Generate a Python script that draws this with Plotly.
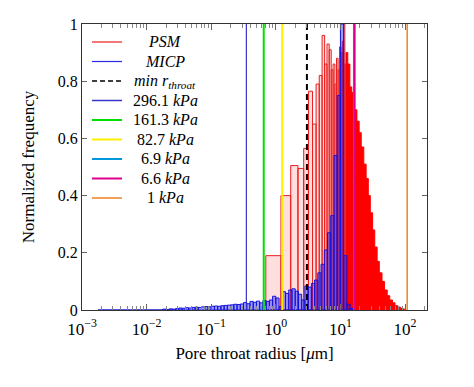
import numpy as np
import plotly.graph_objects as go

# ---------------- data ----------------
# PSM histogram (normalized frequency), linear bins of 0.5 um
psm_edges = [0.7, 1.2, 1.7, 2.2, 2.7, 3.2, 3.7, 4.2, 4.7, 5.2, 5.7, 6.2, 6.7,
             7.2, 7.7, 8.2, 8.7, 9.2, 9.7, 10.2, 10.7, 11.2, 11.7, 12.2]
psm_values = [0.19, 0.40, 0.505, 0.495, 0.565, 0.765, 0.65, 0.79, 0.82, 0.96,
              0.86, 0.93, 0.91, 0.84, 0.86, 0.79, 0.88, 0.84, 0.92, 0.90,
              0.94, 1.00, 0.86]
# dense tail of the PSM histogram (bars too narrow to separate -> solid red)
psm_tail_edges = [12.2, 13, 14, 15, 16.5, 18, 19.5, 21, 23, 25, 27, 29, 31.5,
                  34, 37, 40, 44, 48, 53, 58, 64, 70, 77, 85, 93, 102]
psm_tail_values = [0.90, 0.86, 0.78, 0.76, 0.70, 0.66, 0.62, 0.57, 0.51, 0.46,
                   0.40, 0.34, 0.28, 0.22, 0.17, 0.13, 0.10, 0.07, 0.05, 0.035,
                   0.025, 0.015, 0.01, 0.006, 0.003]

# MICP histogram, log bins of 0.05 decade starting at 10^-2.75 um
micp_log_start = -2.75
micp_log_step = 0.05
micp_values = [0.0] * 20 + [
    0.003, 0.002, 0.004, 0.003, 0.005,
    0.007, 0.006, 0.008, 0.007, 0.009,
    0.010, 0.009, 0.011, 0.012, 0.011,
    0.013, 0.014, 0.013, 0.015, 0.016,
    0.017, 0.018, 0.020, 0.019, 0.021,
    0.026, 0.022, 0.030, 0.027, 0.031,
    0.025, 0.033, 0.030, 0.035, 0.048,
    0.042, 0.012, 0.064, 0.058, 0.070,
    0.074, 0.066, 0.055, 0.035, 0.084,
    0.080, 0.093, 0.105, 0.130, 0.160,
    0.210, 0.270, 0.330, 0.540, 0.750,
    1.000, 0.190, 0.020, 0.005]

min_r_throat = 3.03

pressure_labels = ["296.1", "161.3", "82.7", "6.9", "6.6", "1"]
pressure_radius = [0.35, 0.65, 1.26, 16.2, 16.6, 108]
pressure_colors = ["#3535c8", "#00e000", "#ffee00", "#0098d8", "#e0008a", "#f08a30"]
pressure_widths = [1.2, 2, 2, 2, 2, 1.6]

x_tickvals = [1e-3, 1e-2, 1e-1, 1e0, 1e1, 1e2]
x_ticktext = ["10<sup>\u22123</sup>", "10<sup>\u22122</sup>", "10<sup>\u22121</sup>",
              "10<sup>0</sup>", "10<sup>1</sup>", "10<sup>2</sup>"]

# legend entries (label, colour, width, dash)
legend_items = [("<i>PSM</i>", "rgb(235,30,30)", 1.2, "solid"),
                ("<i>MICP</i>", "rgb(40,40,230)", 1.2, "solid"),
                ("<i>min r</i><sub><i>throat</i></sub>", "black", 1.5, "dash")]
legend_items += [(lab + " <i>kPa</i>", c, w if w > 1.5 else 1.5, "solid")
                 for lab, c, w in zip(pressure_labels, pressure_colors, pressure_widths)]

# geometry (pixels of the 474x387 canvas)
L, R, T, B = 82, 47, 24, 77
W, H = 474, 387
PW, PH = W - L - R, H - T - B


def px_x(px):
    return (px - L) / PW


def px_y(py):
    return (H - B - py) / PH


def bar_polys(edges, values):
    xs, ys = [], []
    for i, v in enumerate(values):
        l, r = edges[i], edges[i + 1]
        xs += [l, l, r, r, l, None]
        ys += [0, v, v, 0, 0, None]
    return xs, ys


fig = go.Figure()

x, y = bar_polys(psm_edges, psm_values)
fig.add_trace(go.Scatter(x=x, y=y, mode="lines", fill="toself",
                         fillcolor="rgba(255,0,0,0.13)",
                         line=dict(color="rgb(235,30,30)", width=1),
                         showlegend=False, hoverinfo="skip"))
x, y = bar_polys(psm_tail_edges, psm_tail_values)
fig.add_trace(go.Scatter(x=x, y=y, mode="lines", fill="toself",
                         fillcolor="rgb(255,0,0)",
                         line=dict(color="rgb(255,0,0)", width=1),
                         showlegend=False, hoverinfo="skip"))

micp_edges = list(10 ** (micp_log_start + micp_log_step * np.arange(len(micp_values) + 1)))
x, y = bar_polys(micp_edges, micp_values)
fig.add_trace(go.Scatter(x=x, y=y, mode="lines", fill="toself",
                         fillcolor="rgba(20,20,255,0.42)",
                         line=dict(color="rgb(20,20,220)", width=1),
                         showlegend=False, hoverinfo="skip"))

for r, c, w in zip(pressure_radius, pressure_colors, pressure_widths):
    fig.add_trace(go.Scatter(x=[r, r], y=[0, 1], mode="lines",
                             line=dict(color=c, width=w),
                             showlegend=False, hoverinfo="skip"))

fig.add_trace(go.Scatter(x=[min_r_throat, min_r_throat], y=[0, 1], mode="lines",
                         line=dict(color="black", width=2, dash="6px,4px"),
                         showlegend=False, hoverinfo="skip"))

# hand-built legend (centred labels like the reference)
shapes, annotations = [], []
for i, (txt, c, w, d) in enumerate(legend_items):
    py = 42 + 19.5 * i
    shapes.append(dict(type="line", xref="paper", yref="paper",
                       x0=px_x(92), x1=px_x(122), y0=px_y(py), y1=px_y(py),
                       line=dict(color=c, width=w,
                                 dash="5px,3px" if d == "dash" else "solid")))
    annotations.append(dict(text=txt, xref="paper", yref="paper",
                            x=px_x(165), y=px_y(py), xanchor="center",
                            yanchor="middle", showarrow=False,
                            font=dict(size=16, family="Liberation Serif")))

fig.update_layout(
    width=W, height=H,
    margin=dict(l=L, r=R, t=T, b=B),
    plot_bgcolor="white", paper_bgcolor="white",
    font=dict(family="Liberation Serif", size=16, color="black"),
    showlegend=False,
    shapes=shapes, annotations=annotations,
    xaxis=dict(type="log", range=[-3, 2.34], showgrid=False, zeroline=False,
               automargin=False,
               showline=True, linecolor="#333", linewidth=1.2, mirror="allticks",
               ticks="inside", ticklen=6, tickcolor="#666", tickwidth=1,
               tickmode="array", tickvals=x_tickvals, ticktext=x_ticktext,
               tickfont=dict(size=17), ticklabelstandoff=3,
               minor=dict(ticks="inside", ticklen=4, tickcolor="#888",
                          dtick="D1", showgrid=False),
               title=dict(text="Pore throat radius [<i>\u03bc</i>m]", standoff=9,
                          font=dict(size=17))),
    yaxis=dict(range=[0, 1], dtick=0.2, showgrid=False, zeroline=False,
               automargin=False,
               showline=True, linecolor="#333", linewidth=1.2, mirror="allticks",
               ticks="inside", ticklen=5, tickcolor="#666",
               tickfont=dict(size=16),
               title=dict(text="Normalized frequency", standoff=18,
                          font=dict(size=17))),
)

fig.write_html("out.html", config={"displayModeBar": False},
               post_script="document.body.style.margin='0px';")
